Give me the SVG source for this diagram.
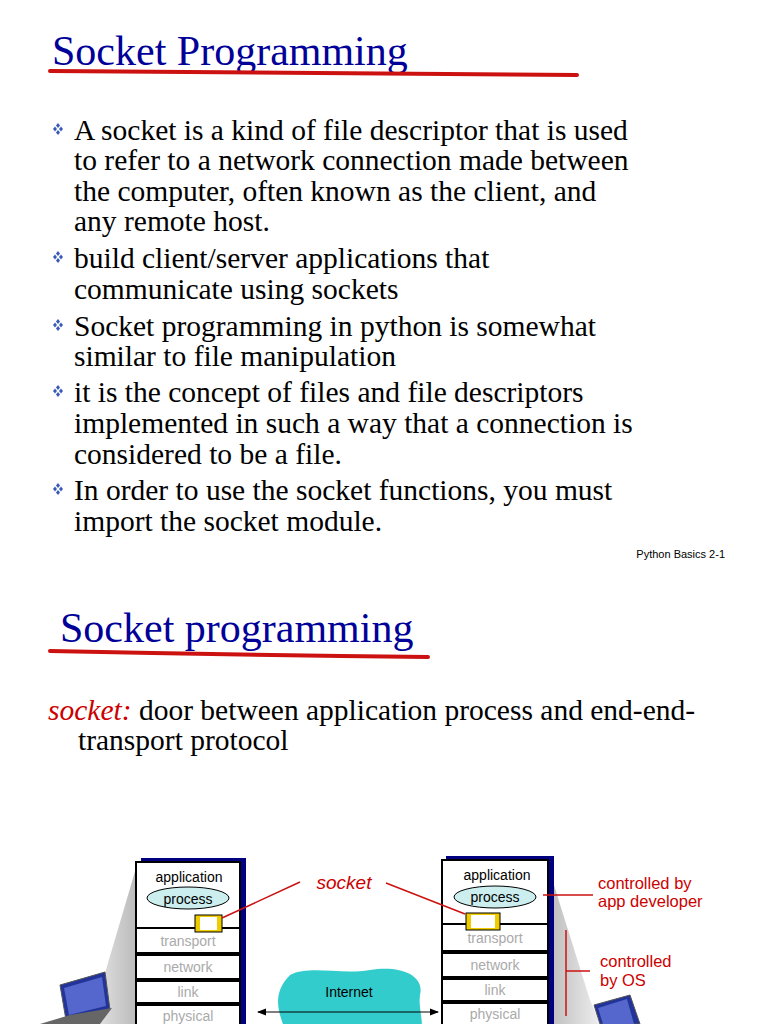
<svg xmlns="http://www.w3.org/2000/svg" width="768" height="1024" viewBox="0 0 768 1024">
<style>
.t{font-family:"Liberation Serif",serif;font-size:42px;fill:#000099}
.b{font-family:"Liberation Serif",serif;font-size:29.5px;fill:#000}
.s{font-family:"Liberation Sans",sans-serif;font-size:14px}
.g{fill:#aaa;text-anchor:middle}
.r{fill:#cc0000;font-size:16.5px}
.red{stroke:#cc1111;stroke-width:1.5;fill:none}
.row{fill:#fff;stroke:#000;stroke-width:2}
</style>
<defs>
<path id="d" d="M0,-2.5 L2,0 L0,2.5 L-2,0Z" fill="#3a5ab8"/>
<g id="bl"><use href="#d" x="-3" y="0"/><use href="#d" x="3" y="0"/><use href="#d" x="0" y="-3.5"/><use href="#d" x="0" y="3.5"/></g>
<marker id="ah" markerWidth="8" markerHeight="8" refX="7" refY="4" orient="auto-start-reverse"><path d="M0,1 L8,4 L0,7Z" fill="#000"/></marker>
<linearGradient id="sh" x1="0" x2="1"><stop offset="0" stop-color="#bbb"/><stop offset="1" stop-color="#eee"/></linearGradient>
<linearGradient id="sh2" x1="1" x2="0"><stop offset="0" stop-color="#bbb"/><stop offset="1" stop-color="#eee"/></linearGradient>
</defs>
<rect width="768" height="1024" fill="#fff"/>
<g id="slide1">
<text class="t" x="52" y="65">Socket Programming</text>
<path d="M50,71 Q300,74 577,75" stroke="#cc1111" stroke-width="4" fill="none" stroke-linecap="round"/>
<g id="bullets1">
<use href="#bl" x="58" y="129"/>
<use href="#bl" x="58" y="257"/>
<use href="#bl" x="58" y="325"/>
<use href="#bl" x="58" y="391"/>
<use href="#bl" x="58" y="489"/>
</g>
<text class="b" x="74" y="140">A socket is a kind of file descriptor that is used</text>
<text class="b" x="74" y="170">to refer to a network connection made between</text>
<text class="b" x="74" y="201">the computer, often known as the client, and</text>
<text class="b" x="74" y="231">any remote host.</text>
<text class="b" x="74" y="268">build client/server applications that</text>
<text class="b" x="74" y="299">communicate using sockets</text>
<text class="b" x="74" y="336">Socket programming in python is somewhat</text>
<text class="b" x="74" y="366">similar to file manipulation</text>
<text class="b" x="74" y="402">it is the concept of files and file descriptors</text>
<text class="b" x="74" y="433">implemented in such a way that a connection is</text>
<text class="b" x="74" y="464">considered to be a file.</text>
<text class="b" x="74" y="500">In order to use the socket functions, you must</text>
<text class="b" x="74" y="531">import the socket module.</text>
<text x="725" y="558" text-anchor="end" style="font-family:'Liberation Sans',sans-serif;font-size:11px">Python Basics 2-1</text>
</g>
<g id="slide2">
<text class="t" x="60" y="642">Socket programming</text>
<path d="M50,651 Q240,655 428,657" stroke="#cc1111" stroke-width="4" fill="none" stroke-linecap="round"/>
<text class="b" x="48" y="720"><tspan fill="#cc0000" font-style="italic">socket:</tspan> door between application process and end-end-</text>
<text class="b" x="78" y="750">transport protocol</text>
</g>
<g id="shadows">
<polygon points="136,868 136,1024 85,1024 100,990" fill="url(#sh2)"/>
<polygon points="548,866 548,1024 600,1024 590,1000" fill="url(#sh)"/>
</g>
<g id="laptop-left">
<polygon points="60,985 105,972 110,1010 66,1020" fill="#223399" stroke="#555"/>
<polygon points="64,988 102,977 106,1006 69,1015" fill="#5566cc"/>
<polygon points="40,1024 70,1015 112,1008 100,1024" fill="#666"/>
</g>
<g id="laptop-right">
<polygon points="594,1005 630,995 640,1024 600,1024" fill="#223399" stroke="#555"/>
<polygon points="598,1008 627,999 634,1024 603,1024" fill="#5566cc"/>
</g>
<g id="stack-left">
<rect x="141" y="858" width="105" height="170" fill="#000080"/>
<rect class="row" x="136" y="862" width="104" height="66"/>
<rect class="row" x="136" y="928" width="104" height="25"/>
<rect class="row" x="136" y="955" width="104" height="24"/>
<rect class="row" x="136" y="981" width="104" height="22"/>
<rect class="row" x="136" y="1005" width="104" height="25"/>
<text class="s" x="189" y="882" text-anchor="middle">application</text>
<ellipse cx="188" cy="898" rx="41" ry="11" fill="#cceeee" stroke="#000"/>
<text class="s" x="188" y="904" text-anchor="middle">process</text>
<rect x="195" y="915" width="27" height="17" fill="#eecc00" stroke="#000"/>
<rect x="200" y="917" width="17" height="13" fill="#fff"/>
<text class="s g" x="188" y="946">transport</text>
<text class="s g" x="188" y="972">network</text>
<text class="s g" x="188" y="997">link</text>
<text class="s g" x="188" y="1021">physical</text>
</g>
<g id="stack-right">
<rect x="446" y="856" width="108" height="170" fill="#000080"/>
<rect class="row" x="442" y="860" width="106" height="64"/>
<rect class="row" x="442" y="924" width="106" height="27"/>
<rect class="row" x="442" y="953" width="106" height="24"/>
<rect class="row" x="442" y="979" width="106" height="22"/>
<rect class="row" x="442" y="1003" width="106" height="25"/>
<text class="s" x="497" y="880" text-anchor="middle">application</text>
<ellipse cx="495" cy="897" rx="41" ry="11" fill="#cceeee" stroke="#000"/>
<text class="s" x="495" y="902" text-anchor="middle">process</text>
<rect x="466" y="913" width="34" height="17" fill="#eecc00" stroke="#000"/>
<rect x="471" y="915" width="24" height="13" fill="#fff"/>
<text class="s g" x="495" y="943">transport</text>
<text class="s g" x="495" y="970">network</text>
<text class="s g" x="495" y="995">link</text>
<text class="s g" x="495" y="1019">physical</text>
</g>
<g id="internet">
<path d="M290,975 C310,965 340,975 370,970 C400,965 425,975 420,995 C418,1010 425,1024 420,1030 L285,1030 C280,1015 270,995 290,975Z" fill="#33cccc"/>
<text class="s" x="349" y="997" text-anchor="middle" font-size="15">Internet</text>
</g>
<g id="labels">
<text x="344" y="889" text-anchor="middle" fill="#cc0000" style="font-family:'Liberation Sans',sans-serif;font-size:19px;font-style:italic">socket</text>
<text class="s r" x="598" y="889">controlled by</text>
<text class="s r" x="598" y="907">app developer</text>
<text class="s r" x="600" y="967">controlled</text>
<text class="s r" x="600" y="986">by OS</text>
</g>
<g id="connectors">
<line class="red" x1="300" y1="882" x2="222" y2="918"/>
<line class="red" x1="386" y1="883" x2="465" y2="914"/>
<line class="red" x1="543" y1="895" x2="593" y2="895"/>
<line class="red" x1="566" y1="930" x2="566" y2="1016"/>
<line class="red" x1="566" y1="971" x2="590" y2="971"/>
<line x1="258" y1="1012" x2="438" y2="1012" stroke="#000" stroke-width="1.2" marker-start="url(#ah)" marker-end="url(#ah)"/>
</g>
</svg>
